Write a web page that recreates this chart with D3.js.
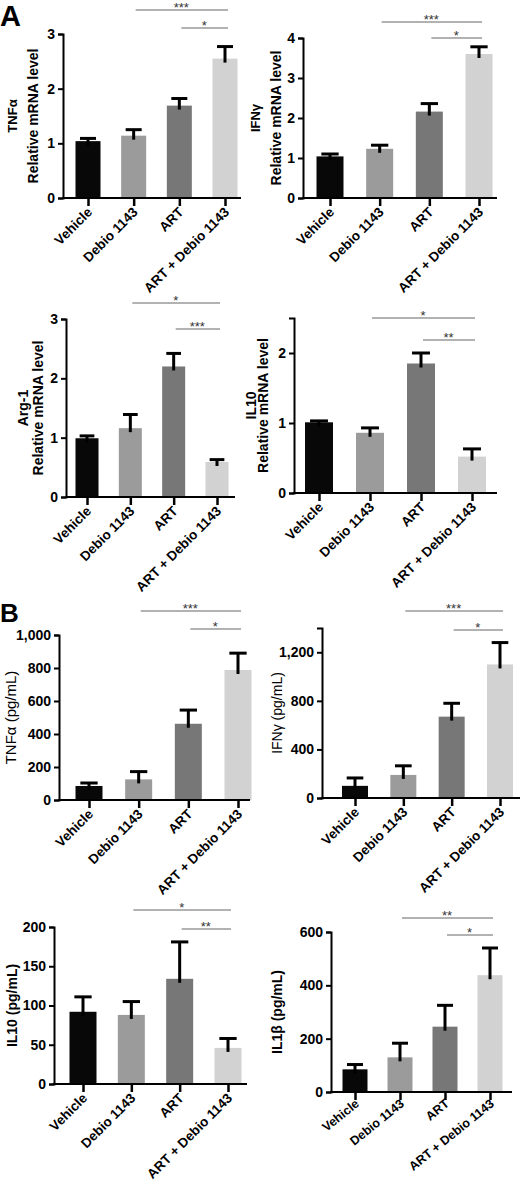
<!DOCTYPE html>
<html>
<head>
<meta charset="utf-8">
<script src="https://cdn.jsdelivr.net/npm/d3@7"></script>
<style>
  body { margin: 0; background: #fff; }
  svg { display: block; }
</style>
</head>
<body>
<svg id="fig" width="520" height="1182"></svg>
<script>
// groups on every x axis
const groups = ["Vehicle", "Debio 1143", "ART", "ART + Debio 1143"];
const barColors = ["#080808", "#9b9b9b", "#777777", "#d2d2d2"];

// A: relative mRNA level (mean, SEM)
const tnfMrna = [1.04, 1.14, 1.69, 2.55];
const tnfMrnaErr = [0.05, 0.11, 0.13, 0.22];
const ifnMrna = [1.04, 1.23, 2.16, 3.6];
const ifnMrnaErr = [0.06, 0.09, 0.2, 0.18];
const argMrna = [0.99, 1.16, 2.2, 0.59];
const argMrnaErr = [0.04, 0.23, 0.22, 0.04];
const il10Mrna = [1.01, 0.86, 1.85, 0.52];
const il10MrnaErr = [0.02, 0.07, 0.15, 0.11];

// B: protein (pg/mL)
const tnfPg = [85, 125, 462, 788];
const tnfPgErr = [18, 47, 83, 102];
const ifnPg = [100, 190, 670, 1100];
const ifnPgErr = [65, 75, 110, 180];
const il10Pg = [92, 88, 134, 46];
const il10PgErr = [19, 17, 47, 12];
const il1bPg = [85, 130, 245, 438];
const il1bPgErr = [18, 53, 80, 102];

// y ticks
const ticks3 = [0, 1, 2, 3];
const ticks4 = [0, 1, 2, 3, 4];
const ticks2 = [0, 1, 2];
const ticksTnfPg = [0, 200, 400, 600, 800, 1000];
const ticksIfnPg = [0, 400, 800, 1200];
const ticksIl10Pg = [0, 50, 100, 150, 200];
const ticksIl1bPg = [0, 200, 400, 600];

// significance brackets: [from group, to group, stars]
const tnfMrnaSig = [[1, 3, "***"], [2, 3, "*"]];
const ifnMrnaSig = [[1, 3, "***"], [2, 3, "*"]];
const argMrnaSig = [[1, 3, "*"], [2, 3, "***"]];
const il10MrnaSig = [[1, 3, "*"], [2, 3, "**"]];
const tnfPgSig = [[1, 3, "***"], [2, 3, "*"]];
const ifnPgSig = [[1, 3, "***"], [2, 3, "*"]];
const il10PgSig = [[1, 3, "*"], [2, 3, "**"]];
const il1bPgSig = [[1, 3, "**"], [2, 3, "*"]];

const font = "'Liberation Sans', Arial, Helvetica, sans-serif";
const svg = d3.select("#fig");

// layout of each panel (pixels)
const panels = [
  { vals: tnfMrna, errs: tnfMrnaErr, ymax: 3, ticks: ticks3, fmt: d3.format("d"), sig: tnfMrnaSig,
    ax: 63, axEnd: 241, y0: 198, yTop: 34, c0: 88, c3: 225, bw: 25, sigY: [10, 28],
    ylab: [{ t: "TNFα", x: 17, size: 13 }, { t: "Relative mRNA level", x: 38, size: 14 }] },
  { vals: ifnMrna, errs: ifnMrnaErr, ymax: 4, ticks: ticks4, fmt: d3.format("d"), sig: ifnMrnaSig,
    ax: 303, axEnd: 497, y0: 198, yTop: 38, c0: 330, c3: 479, bw: 27, sigY: [22, 38],
    ylab: [{ t: "IFNγ", x: 260, size: 13 }, { t: "Relative mRNA level", x: 281, size: 14 }] },
  { vals: argMrna, errs: argMrnaErr, ymax: 3, ticks: ticks3, fmt: d3.format("d"), sig: argMrnaSig,
    ax: 66, axEnd: 235, y0: 497, yTop: 319, c0: 87, c3: 217, bw: 23, sigY: [303, 329],
    ylab: [{ t: "Arg-1", x: 28, size: 14 }, { t: "Relative mRNA level", x: 43, size: 14 }] },
  { vals: il10Mrna, errs: il10MrnaErr, ymax: 2.5, ticks: ticks2, fmt: d3.format("d"), sig: il10MrnaSig,
    ax: 294, axEnd: 497, y0: 493, yTop: 318, c0: 319, c3: 472, bw: 28, sigY: [318, 340],
    ylab: [{ t: "IL10", x: 256, size: 14 }, { t: "Relative mRNA level", x: 268, size: 14 }] },
  { vals: tnfPg, errs: tnfPgErr, ymax: 1000, ticks: ticksTnfPg, fmt: d3.format(","), sig: tnfPgSig,
    ax: 59, axEnd: 250, y0: 800, yTop: 635, c0: 89, c3: 238, bw: 27, sigY: [611, 629],
    ylab: [{ t: "TNFα (pg/mL)", x: 16, size: 15, weight: "normal" }] },
  { vals: ifnPg, errs: ifnPgErr, ymax: 1400, ticks: ticksIfnPg, fmt: d3.format(","), sig: ifnPgSig,
    ax: 322, axEnd: 520, y0: 798, yTop: 628, c0: 355, c3: 500, bw: 26, sigY: [611, 630],
    ylab: [{ t: "IFNγ (pg/mL)", x: 282, size: 14, weight: "normal" }] },
  { vals: il10Pg, errs: il10PgErr, ymax: 200, ticks: ticksIl10Pg, fmt: d3.format("d"), sig: il10PgSig,
    ax: 54, axEnd: 247, y0: 1084, yTop: 927, c0: 83, c3: 228, bw: 27, sigY: [910, 929],
    ylab: [{ t: "IL10 (pg/mL)", x: 17, size: 14 }] },
  { vals: il1bPg, errs: il1bPgErr, ymax: 600, ticks: ticksIl1bPg, fmt: d3.format("d"), sig: il1bPgSig,
    ax: 331, axEnd: 512, y0: 1092, yTop: 932, c0: 355, c3: 490, bw: 25, sigY: [918, 935],
    ylab: [{ t: "IL1β (pg/mL)", x: 282, size: 14 }], rot: -39, labSize: 12.5, labDy: 13 }
];

panels.forEach(p => {
  const g = svg.append("g");
  const x = d3.scalePoint().domain(groups).range([p.c0, p.c3]);
  const y = d3.scaleLinear().domain([0, p.ymax]).range([p.y0, p.yTop]);

  // bars
  g.selectAll("rect.bar")
    .data(p.vals)
    .enter()
    .append("rect")
    .attr("class", "bar")
    .attr("x", (d, i) => x(groups[i]) - p.bw / 2)
    .attr("y", d => y(d))
    .attr("width", p.bw)
    .attr("height", d => p.y0 - y(d))
    .attr("fill", (d, i) => barColors[i]);

  // error bars (upper half only)
  const cap = p.bw * 0.32;
  const eb = g.selectAll("g.err")
    .data(p.vals)
    .enter()
    .append("g")
    .attr("class", "err")
    .attr("stroke", "#000")
    .attr("stroke-width", 3);
  eb.append("line")
    .attr("x1", (d, i) => x(groups[i]))
    .attr("x2", (d, i) => x(groups[i]))
    .attr("y1", d => y(d) + 4)
    .attr("y2", (d, i) => y(d + p.errs[i]));
  eb.append("line")
    .attr("x1", (d, i) => x(groups[i]) - cap)
    .attr("x2", (d, i) => x(groups[i]) + cap)
    .attr("y1", (d, i) => y(d + p.errs[i]))
    .attr("y2", (d, i) => y(d + p.errs[i]));

  // y axis
  const yAxis = g.append("g")
    .attr("transform", `translate(${p.ax},0)`)
    .call(d3.axisLeft(y).tickValues(p.ticks).tickFormat(p.fmt).tickSizeOuter(0).tickSize(5).tickPadding(3));
  yAxis.select(".domain").attr("stroke-width", 2);
  yAxis.selectAll(".tick line").attr("stroke-width", 2);
  yAxis.selectAll("text")
    .attr("font-family", font).attr("font-size", 14).attr("font-weight", "bold").attr("fill", "#000");

  // x axis
  const xAxis = g.append("g")
    .attr("transform", `translate(0,${p.y0})`)
    .call(d3.axisBottom(x).tickSize(8).tickFormat(""));
  xAxis.select(".domain").remove();
  xAxis.selectAll(".tick line").attr("stroke-width", 2.5);
  g.append("line")
    .attr("x1", p.ax - 1).attr("x2", p.axEnd)
    .attr("y1", p.y0).attr("y2", p.y0)
    .attr("stroke", "#000").attr("stroke-width", 2);

  const rot = p.rot || -45;
  g.selectAll("text.xlab")
    .data(groups)
    .enter()
    .append("text")
    .attr("class", "xlab")
    .attr("transform", d => `translate(${x(d) + 5},${p.y0 + (p.labDy || 15)}) rotate(${rot})`)
    .attr("text-anchor", "end")
    .attr("font-family", font)
    .attr("font-size", p.labSize || 13.5)
    .attr("font-weight", "bold")
    .text(d => d);

  // y labels
  const yMid = (p.y0 + p.yTop) / 2;
  p.ylab.forEach(l => {
    g.append("text")
      .attr("transform", `translate(${l.x},${yMid}) rotate(-90)`)
      .attr("text-anchor", "middle")
      .attr("font-family", font)
      .attr("font-size", l.size)
      .attr("font-weight", l.weight || "bold")
      .text(l.t);
  });

  // significance brackets
  p.sig.forEach((s, k) => {
    const ly = p.sigY[k];
    g.append("line")
      .attr("x1", x(groups[s[0]]) + 2).attr("x2", x(groups[s[1]]) + 3)
      .attr("y1", ly).attr("y2", ly)
      .attr("stroke", "#666").attr("stroke-width", 1.2);
    g.append("text")
      .attr("x", (x(groups[s[0]]) + x(groups[s[1]])) / 2 + 2)
      .attr("y", ly + 2)
      .attr("text-anchor", "middle")
      .attr("font-family", font)
      .attr("font-size", 13)
      .attr("fill", "#333")
      .text(s[2]);
  });
});

// panel letters
svg.append("text").attr("x", 0).attr("y", 26)
  .attr("font-family", font).attr("font-size", 29).attr("font-weight", "bold").text("A");
svg.append("text").attr("x", 0).attr("y", 622)
  .attr("font-family", font).attr("font-size", 26).attr("font-weight", "bold").text("B");
</script>
</body>
</html>
